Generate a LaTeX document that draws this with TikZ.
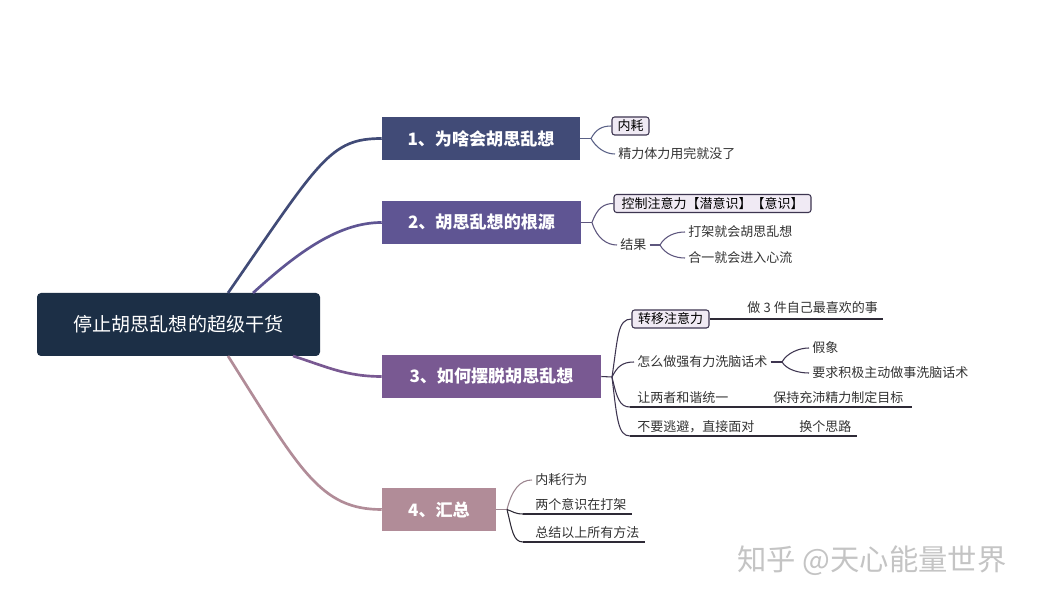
\documentclass[tikz,border=0pt]{standalone}
\usepackage{fontspec}
\newfontfamily\cjk{Noto Sans CJK SC}
\definecolor{rootc}{HTML}{1C2F46}
\definecolor{c1}{HTML}{414B77}
\definecolor{c2}{HTML}{5F5593}
\definecolor{c3}{HTML}{795992}
\definecolor{c4}{HTML}{B18C98}
\definecolor{l1}{HTML}{5A6186}
\definecolor{l2}{HTML}{5E577E}
\definecolor{l3}{HTML}{3E3550}
\definecolor{l4}{HTML}{9C8690}
\definecolor{ulc}{HTML}{2E2A36}
\definecolor{txtc}{HTML}{333333}
\definecolor{subfill}{HTML}{F0EAF4}
\definecolor{subdraw}{HTML}{3D3550}
\definecolor{wmc}{HTML}{C4C4C4}
\tikzset{
  rootbox/.style={fill=rootc, rounded corners=3pt, minimum width=212.25pt, minimum height=47.25pt,
    text=white, inner sep=0, font=\cjk\fontsize{14.3}{17}\selectfont},
  mainbox/.style={minimum height=32.25pt, text=white, inner sep=0,
    font=\cjk\bfseries\fontsize{12.8}{15}\selectfont},
  subbox/.style={draw=subdraw, fill=subfill, rounded corners=2pt, line width=0.8pt,
    minimum height=13.5pt, inner sep=0, text=black, font=\cjk\fontsize{9.75}{12}\selectfont},
  subtxt/.style={anchor=west, inner xsep=2.25pt, inner ysep=0, text=txtc,
    font=\cjk\fontsize{9.75}{12}\selectfont},
  rootlink/.style={line width=2pt},
  sublink/.style={line width=0.8pt},
  uline/.style={line width=0.8pt, draw=ulc}
}
\begin{document}
\begin{tikzpicture}[x=0.75pt,y=-0.75pt]
\useasboundingbox (0,0) rectangle (1040,609);
\fill[white] (0,0) rectangle (1040,609);

% root and main branches
\node[rootbox] (root) at (178.5,324.5) {停止胡思乱想的超级干货};
\node[mainbox, fill=c1, minimum width=148.5pt] (b1) at (481,138.5) {1、为啥会胡思乱想};
\node[mainbox, fill=c2, minimum width=149.25pt] (b2) at (481.5,222.5) {2、胡思乱想的根源};
\node[mainbox, fill=c3, minimum width=164.25pt] (b3) at (491.5,376.5) {3、如何摆脱胡思乱想};
\node[mainbox, fill=c4, minimum width=85.5pt] (b4) at (439,509.5) {4、汇总};

\coordinate (r1) at (228,293);
\coordinate (r2) at (253,293);
\coordinate (r3) at (293,356);
\coordinate (r4) at (228,356);
\draw[rootlink, c1] (r1) .. controls (320,160) and (330,138.5) .. (b1.west);
\draw[rootlink, c2] (r2) .. controls (300,250) and (340,222.5) .. (b2.west);
\draw[rootlink, c3] (r3) .. controls (325,366) and (345,376.5) .. (b3.west);
\draw[rootlink, c4] (r4) .. controls (300,470) and (320,509.5) .. (b4.west);

% branch 1
\node[subbox, minimum width=27.75pt] (n11) at (630.5,126) {内耗};
\node[subtxt] (n12) at (615,154) {精力体力用完就没了};
\coordinate (f1) at (591,138.5);
\draw[sublink, l1] (b1.east) -- (f1);
\draw[sublink, l1] (f1) .. controls +(5,-9) and +(-10,0) .. (n11.west);
\draw[sublink, l1] (f1) .. controls +(5,9) and +(-10,0) .. (n12.west);

% branch 2
\node[subbox, minimum width=147.75pt] (n21) at (712.5,203.5) {控制注意力【潜意识】【意识】};
\node[subtxt] (n22) at (617,245) {结果};
\node[subtxt] (n221) at (685,232) {打架就会胡思乱想};
\node[subtxt] (n222) at (685,258) {合一就会进入心流};
\coordinate (f2) at (592,222.5);
\coordinate (f22) at (660,245);
\draw[sublink, l2] (b2.east) -- (f2);
\draw[sublink, l2] (f2) .. controls +(5,-14) and +(-10,0) .. (n21.west);
\draw[sublink, l2] (f2) .. controls +(5,16) and +(-10,0) .. (n22.west);
\draw[sublink, l2] (n22.east) -- (f22);
\draw[sublink, l2] (f22) .. controls +(5,-9) and +(-10,0) .. (n221.west);
\draw[sublink, l2] (f22) .. controls +(5,9) and +(-10,0) .. (n222.west);

% branch 3
\node[subbox, minimum width=57.75pt] (n31) at (670.5,319) {转移注意力};
\node[subtxt] (n311) at (744,308) {做\hspace{0.25em}3\hspace{0.25em}件自己最喜欢的事};
\coordinate (e31) at (883,319);
\node[subtxt] (n32) at (634,362) {怎么做强有力洗脑话术};
\node[subtxt] (n321) at (809,348) {假象};
\node[subtxt] (n322) at (809,373) {要求积极主动做事洗脑话术};
\node[subtxt] (n33) at (634,398) {让两者和谐统一};
\node[subtxt] (n331) at (770,398) {保持充沛精力制定目标};
\coordinate (u33s) at (630,407);
\coordinate (u33e) at (912,407);
\node[subtxt] (n34) at (634,427) {不要逃避，直接面对};
\node[subtxt] (n341) at (796,427) {换个思路};
\coordinate (u34s) at (630,436);
\coordinate (u34e) at (857,436);
\coordinate (f3) at (612,377);
\coordinate (f32) at (782,362);
\draw[sublink, l3] (b3.east) -- (f3);
\draw[sublink, l3] (f3) .. controls +(6,-40) and +(-14,0) .. (n31.west);
\draw[uline] (n31.east) -- (e31);
\draw[sublink, l3] (f3) .. controls +(5,-10) and +(-12,0) .. (n32.west);
\draw[sublink, l3] (n32.east) -- (f32);
\draw[sublink, l3] (f32) .. controls +(5,-9) and +(-10,0) .. (n321.west);
\draw[sublink, l3] (f32) .. controls +(5,8) and +(-10,0) .. (n322.west);
\draw[sublink, l3] (f3) .. controls +(5,22) and +(-10,0) .. (u33s);
\draw[uline] (u33s) -- (u33e);
\draw[sublink, l3] (f3) .. controls +(5,42) and +(-12,0) .. (u34s);
\draw[uline] (u34s) -- (u34e);

% branch 4
\node[subtxt] (n41) at (532,480) {内耗行为};
\node[subtxt] (n42) at (532,505) {两个意识在打架};
\node[subtxt] (n43) at (532,533) {总结以上所有方法};
\coordinate (u42s) at (523,514);
\coordinate (u42e) at (632,514);
\coordinate (u43s) at (523,542);
\coordinate (u43e) at (645,542);
\coordinate (f4) at (507,509.5);
\draw[sublink, l4] (b4.east) -- (f4);
\draw[sublink, l4] (f4) .. controls +(5,-20) and +(-12,0) .. (n41.west);
\draw[sublink, ulc] (f4) .. controls +(6,2) and +(-8,0) .. (u42s);
\draw[uline] (u42s) -- (u42e);
\draw[sublink, ulc] (f4) .. controls +(5,20) and +(-10,0) .. (u43s);
\draw[uline] (u43s) -- (u43e);

% watermark
\node[text=wmc, font=\cjk\fontsize{22}{26}\selectfont, inner sep=0] (wm) at (872,561) {知乎 @天心能量世界};
\end{tikzpicture}
\end{document}
